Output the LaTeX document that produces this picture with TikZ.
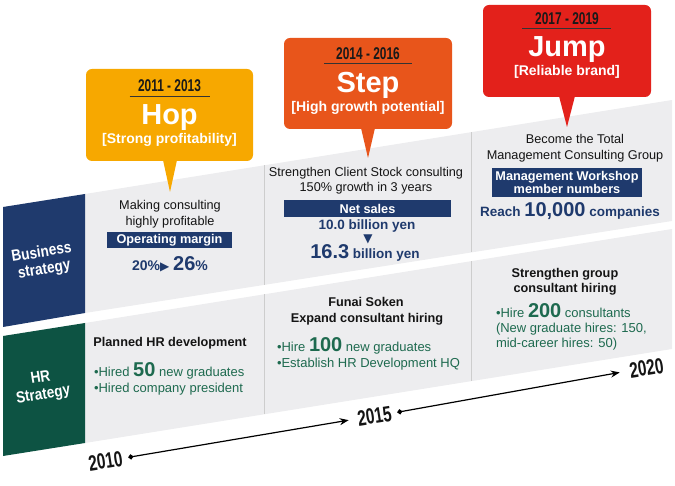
\documentclass[tikz,border=0pt]{standalone}
\usepackage{fontspec}
\usepackage{graphicx}
\setmainfont{Liberation Sans}
\newfontfamily\condfont[FakeStretch=0.70]{Liberation Sans}
\newfontfamily\symfont{DejaVu Sans}
\usetikzlibrary{arrows.meta}
\definecolor{navy}{HTML}{1F3A6D}
\definecolor{hrgreen}{HTML}{0D5343}
\definecolor{txtgreen}{HTML}{1E6A4F}
\definecolor{bandgrey}{HTML}{EDEDEF}
\definecolor{divgrey}{HTML}{CDCDCD}
\definecolor{hopc}{HTML}{F7A800}
\definecolor{stepc}{HTML}{E8551B}
\definecolor{jumpc}{HTML}{E3211B}
\newcommand\myfs[1]{\fontsize{#1}{#1}\selectfont}
\newcommand\narrowlab[2]{\scalebox{0.85}[1]{\begin{tabular}{@{}c@{}}#1\\[-1pt]#2\end{tabular}}}
\newcommand\narrowyr[1]{\scalebox{0.7}[1]{#1}}
\begin{document}
\begin{tikzpicture}[x=1pt,y=-1pt,
  every node/.style={inner sep=0pt,outer sep=0pt},
  btxt/.style={anchor=base,font=\myfs{12.7},text=black!92},
  ntxt/.style={anchor=base,font=\bfseries\myfs{13.5},text=navy},
  htitle/.style={anchor=base,font=\bfseries\myfs{12.7},text=black!92},
  gtxt/.style={anchor=base west,font=\myfs{13},text=txtgreen},
  bar/.style={fill=navy,text=white,font=\bfseries\myfs{12.7},anchor=center},
  yr/.style={anchor=base,font=\condfont\bfseries\myfs{17},text=black!90},
  yrline/.style={draw=black!80,line width=0.8pt},
  ttl/.style={anchor=base,font=\bfseries\myfs{29},text=white},
  sub/.style={anchor=base,font=\bfseries\myfs{14},text=white},
  lab/.style={font=\bfseries\fontsize{16}{18}\selectfont,text=white,rotate=9},
  yearlab/.style={font=\bfseries\myfs{22},text=black!92,rotate=9},
  tl/.style={draw=black,line width=1.2pt,{Circle[length=5pt]}-{Stealth[length=9pt,width=7pt]}},
  divider/.style={draw=divgrey,line width=0.9pt}
]
\useasboundingbox (0,0) rectangle (675,486);
% bands
\fill[bandgrey] (85,194) -- (672,100) -- (672,221) -- (85,313) -- cycle;
\fill[navy] (3,207) -- (85,194) -- (85,313) -- (3,327) -- cycle;
\fill[bandgrey] (85,323) -- (672,229) -- (672,349) -- (85,443) -- cycle;
\fill[hrgreen] (3,336) -- (85,323) -- (85,443) -- (3,456) -- cycle;
% dividers
\draw[divider] (264,165.4) -- (264,285);
\draw[divider] (471,132.2) -- (471,252.5);
\draw[divider] (264,294.3) -- (264,414.3);
\draw[divider] (471,261.2) -- (471,381.2);
% labels
\node[lab] (bizlab) at (43,262) {\narrowlab{Business}{strategy}};
\node[lab] (hrlab) at (42,387) {\narrowlab{HR}{Strategy}};
% callouts
\fill[hopc,rounded corners=6pt] (86,69) rectangle (253,161);
\fill[hopc] (163,160) -- (177,160) -- (170,192) -- cycle;
\fill[stepc,rounded corners=6pt] (284,38) rectangle (452,129);
\fill[stepc] (361,128) -- (375,128) -- (368,158) -- cycle;
\fill[jumpc,rounded corners=6pt] (483,5) rectangle (651,97);
\fill[jumpc] (559,96) -- (575,96) -- (567,127) -- cycle;
\node[yr] (hopyr) at (169.5,92) {2011 - 2013};
\draw[yrline] (129.5,96) -- (209.5,96);
\node[ttl] (hopt) at (169.5,125) {Hop};
\node[sub] (hops) at (169.5,144) {[Strong profitability]};
\node[yr] (stepyr) at (368,60) {2014 - 2016};
\draw[yrline] (324,63.5) -- (412,63.5);
\node[ttl] (stept) at (368,93) {Step};
\node[sub] (steps) at (368,112) {[High growth potential]};
\node[yr] (jumpyr) at (567,25) {2017 - 2019};
\draw[yrline] (522,28.5) -- (611,28.5);
\node[ttl] (jumpt) at (567,57) {Jump};
\node[sub] (jumps) at (567,76) {[Reliable brand]};
% business column 1
\node[btxt] (b1a) at (170,210) {Making consulting};
\node[btxt] (b1b) at (170,226) {highly profitable};
\node[bar,minimum width=125pt,minimum height=16.5pt] (b1bar) at (169.5,240) {Operating margin};
\node[ntxt,font=\bfseries\myfs{14}] (b1c) at (170,271) {20\%{\symfont\myfs{12}▶} {\myfs{20}26}\%};
% business column 2
\node[btxt] (b2a) at (366,177) {Strengthen Client Stock consulting};
\node[btxt] (b2b) at (366,192) {150\% growth in 3 years};
\node[bar,minimum width=167pt,minimum height=17pt] (b2bar) at (367.5,208.5) {Net sales};
\node[ntxt] (b2c) at (367,230) {10.0 billion yen};
\node[text=navy,font=\symfont\myfs{12}] (b2d) at (368,239.5) {▼};
\node[ntxt] (b2e) at (365,259) {{\myfs{20}16.3} billion yen};
% business column 3
\node[btxt] (b3a) at (575,144) {Become the Total};
\node[btxt] (b3b) at (575,160) {Management Consulting Group};
\node[bar,minimum width=150pt,minimum height=29pt,align=center,font=\bfseries\fontsize{12.7}{11}\selectfont] (b3bar) at (567,182.5) {Management Workshop\\member numbers};
\node[ntxt] (b3c) at (570,217) {Reach {\myfs{20}10,000} companies};
% HR column 1
\node[htitle] (h1a) at (170,347) {Planned HR development};
\node[gtxt] (h1b) at (94,377) {•Hired {\bfseries\myfs{20}50} new graduates};
\node[gtxt] (h1c) at (94,392) {•Hired company president};
% HR column 2
\node[htitle] (h2a) at (366,307) {Funai Soken};
\node[htitle] (h2b) at (367,323) {Expand consultant hiring};
\node[gtxt] (h2c) at (277,352) {•Hire {\bfseries\myfs{20}100} new graduates};
\node[gtxt] (h2d) at (277,367) {•Establish HR Development HQ};
% HR column 3
\node[htitle] (h3a) at (565,278) {Strengthen group};
\node[htitle] (h3b) at (565,293) {consultant hiring};
\node[gtxt] (h3c) at (496,318) {•Hire {\bfseries\myfs{20}200} consultants};
\node[gtxt] (h3d) at (496,333) {(New graduate hires: 150,};
\node[gtxt] (h3e) at (496,348) {mid-career hires: 50)};
% timeline
\node[yearlab] (y2010) at (105.5,461) {\narrowyr{2010}};
\node[yearlab] (y2015) at (374.5,416) {\narrowyr{2015}};
\node[yearlab] (y2020) at (646.5,368) {\narrowyr{2020}};
\draw[tl,shorten <=6pt,shorten >=9pt] (y2010.east) -- (y2015.west);
\draw[tl,shorten <=6pt,shorten >=10pt] (y2015.east) -- (y2020.west);
\end{tikzpicture}
\end{document}
